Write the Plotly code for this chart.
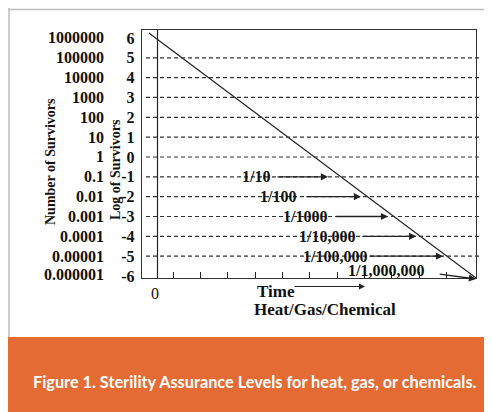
import plotly.graph_objects as go

# ---------------- data ----------------
log_levels = [6, 5, 4, 3, 2, 1, 0, -1, -2, -3, -4, -5, -6]
log_tick_text = ["6", "5", "4", "3", "2", "1", "0", "-1", "-2", "-3", "-4", "-5", "-6"]
survivor_counts = ["1000000", "100000", "10000", "1000", "100", "10", "1",
                   "0.1", "0.01", "0.001", "0.0001", "0.00001", "0.000001"]
dashed_levels = [5, 4, 3, 2, 1, 0, -1, -2, -3, -4, -5]
sal_labels = ["1/10", "1/100", "1/1000", "1/10,000", "1/100,000", "1/1,000,000"]
sal_levels = [-1, -2, -3, -4, -5, -6]
curve_time = [-0.32, 11.88]
curve_log = [6.25, -6.1]
time_ticks = [0.58, 1.6, 2.62, 3.64, 4.66, 5.68, 6.7, 7.72, 8.74, 9.76, 10.78]

# ---------------- layout constants ----------------
W, H = 492, 412
L, R, T, B = 134, 24, 22, 142
PW, PH = W - L - R, H - T - B


def px(xp):
    return (xp - L) / PW


def py(yp):
    return (H - B - yp) / PH


SERIF = "Liberation Serif"
INK = "#222222"
TXT = "#111111"
label_time = [3.66, 4.48, 5.49, 6.32, 6.61, 8.51]
label_y_shift = [0, 0, 0, 0, 0, 0.3]
arrow_tail = [4.42, 5.50, 6.61, 7.59, 7.85, 10.47]
arrow_head = [6.36, 7.59, 8.60, 9.65, 10.65, 11.88]
arrow_tail_dy = [0, 0, 0, 0, 0, 0.1]
arrow_head_dy = [0, 0, 0, 0, 0, -0.15]


def sfont(size, bold=True):
    return dict(family=SERIF, size=size, color=TXT, weight="bold" if bold else "normal")


fig = go.Figure()

# death curve
fig.add_trace(go.Scatter(x=curve_time, y=curve_log, mode="lines",
                         line=dict(color=INK, width=1.2), hoverinfo="skip",
                         showlegend=False, cliponaxis=False))

shapes = []
for lv in dashed_levels:
    shapes.append(dict(type="line", xref="paper", yref="y", x0=px(138), x1=px(472),
                       y0=lv, y1=lv, line=dict(color="#333333", width=1.2, dash="4px,3px")))
shapes.append(dict(type="line", xref="x", yref="paper", x0=0, x1=0, y0=0, y1=1,
                   line=dict(color=INK, width=1.2)))
shapes.append(dict(type="rect", xref="paper", yref="paper", x0=px(0), x1=px(W),
                   y0=py(H), y1=py(329), fillcolor="#E46C34", line=dict(width=0),
                   layer="below"))
shapes.append(dict(type="line", xref="paper", yref="paper", x0=px(0), x1=px(W),
                   y0=py(1.5), y1=py(1.5), line=dict(color="#bdbdbd", width=1.5)))
shapes.append(dict(type="line", xref="paper", yref="paper", x0=px(1), x1=px(1),
                   y0=py(0), y1=py(329), line=dict(color="#bdbdbd", width=1.5)))

ann = []
for lv, txt in zip(log_levels, survivor_counts):
    yv = lv if lv != -6 else -5.9
    ann.append(dict(x=px(98), y=yv, xref="paper", yref="y", text=txt, showarrow=False,
                    xanchor="right", yanchor="middle", font=sfont(16)))
for i, (lab, lv) in enumerate(zip(sal_labels, sal_levels)):
    ann.append(dict(x=label_time[i], y=lv + label_y_shift[i], xref="x", yref="y",
                    text=lab, showarrow=False, xanchor="center", yanchor="middle",
                    font=sfont(16)))
    ann.append(dict(x=arrow_head[i], y=lv + arrow_head_dy[i], xref="x", yref="y",
                    ax=arrow_tail[i], ay=lv + arrow_tail_dy[i], axref="x", ayref="y",
                    text="", showarrow=True, arrowhead=2, arrowsize=1.1,
                    arrowwidth=1.3, arrowcolor=INK))
ann.append(dict(x=px(42), y=py(154), xref="paper", yref="paper", text="Number of Survivors",
                textangle=-90, showarrow=False, xanchor="center", yanchor="middle",
                font=sfont(14)))
ann.append(dict(x=px(107), y=py(162), xref="paper", yref="paper", text="Log of Survivors",
                textangle=-90, showarrow=False, xanchor="center", yanchor="middle",
                font=sfont(14)))
ann.append(dict(x=0, y=py(285), xref="x", yref="paper", text="0", showarrow=False,
                xanchor="center", yanchor="middle", xshift=-3, font=sfont(16, bold=False)))
ann.append(dict(x=px(268), y=py(283), xref="paper", yref="paper", text="Time",
                showarrow=False, xanchor="center", yanchor="middle", font=sfont(17)))
ann.append(dict(x=px(357), y=py(278.5), xref="paper", yref="paper", ax=-72, ay=0,
                text="", showarrow=True, arrowhead=2, arrowsize=1.0, arrowwidth=1.2,
                arrowcolor=INK))
ann.append(dict(x=px(317), y=py(301), xref="paper", yref="paper", text="Heat/Gas/Chemical",
                showarrow=False, xanchor="center", yanchor="middle", font=sfont(17)))
ann.append(dict(x=px(247), y=py(373), xref="paper", yref="paper",
                text="Figure 1. Sterility Assurance Levels for heat, gas, or chemicals.",
                showarrow=False, xanchor="center", yanchor="middle",
                font=dict(family="Lato", size=16.3, color="white", weight="bold")))

fig.update_layout(
    width=W, height=H,
    margin=dict(l=L, r=R, t=T, b=B, pad=0),
    paper_bgcolor="white", plot_bgcolor="white",
    shapes=shapes, annotations=ann, showlegend=False,
    xaxis=dict(range=[-0.578, 11.88], showgrid=False, zeroline=False,
               tickvals=time_ticks, showticklabels=False, ticks="inside", ticklen=6,
               tickcolor=INK, tickwidth=1.1, showline=True, linecolor="#333",
               linewidth=1.4, mirror=True, fixedrange=True),
    yaxis=dict(range=[-6.1, 6.4], showgrid=False, zeroline=False,
               tickvals=log_levels, ticktext=log_tick_text, ticks="",
               ticklabelstandoff=3,
               tickfont=sfont(16),
               showline=True, linecolor="#333", linewidth=1.4, mirror=True,
               fixedrange=True),
)

fig.write_html("out.html")
